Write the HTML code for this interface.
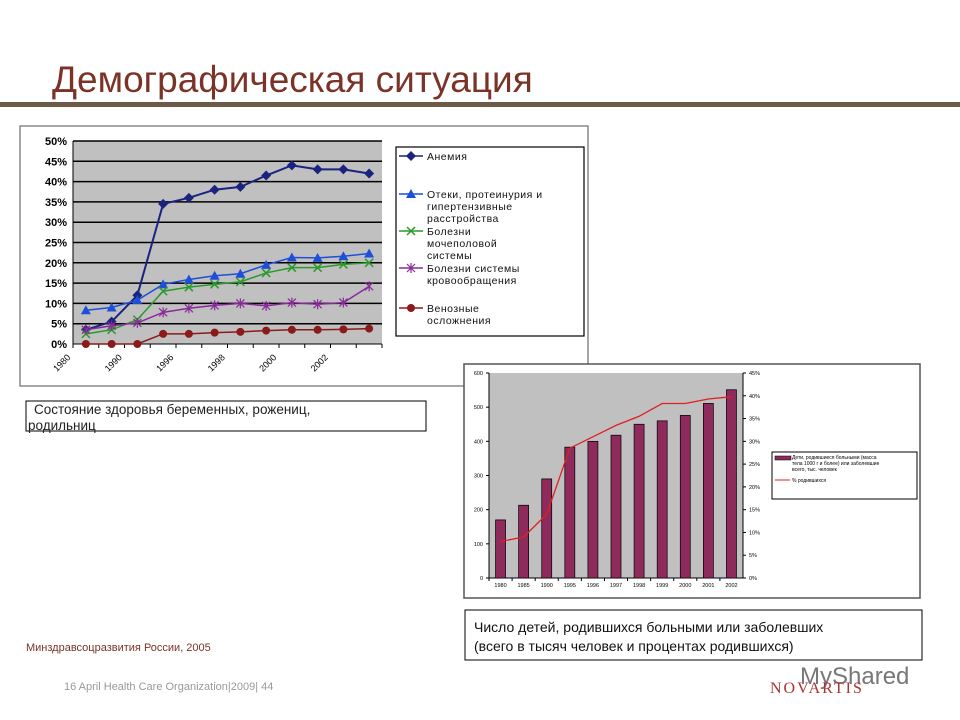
<!DOCTYPE html>
<html><head><meta charset="utf-8"><style>
html,body{margin:0;padding:0;background:#fff;}
svg{display:block;font-family:"Liberation Sans","DejaVu Sans",sans-serif;}
</style></head><body>
<svg id="s" width="960" height="720" viewBox="0 0 960 720">
<text x="52" y="92" font-size="37" fill="#7a3326">Демографическая  ситуация</text>
<rect x="0" y="102" width="960" height="5" fill="#6e5b47"/>
<rect x="20" y="126" width="568" height="260" fill="#fff" stroke="#888" stroke-width="1.5"/>
<g id="c1"></g>
<rect x="26" y="401" width="400" height="30" fill="#fff" stroke="#000"/>
<text x="34" y="414" font-size="13.5" fill="#222"><tspan x="34">Состояние здоровья беременных, рожениц,</tspan><tspan x="28" dy="16">родильниц</tspan></text>
<rect x="464" y="364" width="456" height="234" fill="#fff" stroke="#555" stroke-width="1.5"/>
<g id="c2"></g>
<rect x="465" y="610" width="457" height="50" fill="#fff" stroke="#000"/>
<text font-size="14" fill="#111"><tspan x="474" y="632">Число детей, родившихся больными или заболевших</tspan><tspan x="474" y="651">(всего в тысяч человек и процентах родившихся)</tspan></text>
<text x="26" y="651" font-size="11" fill="#7a3326">Минздравсоцразвития России, 2005</text>
<text x="64" y="690" font-size="11" fill="#999">16 April Health Care Organization|2009| 44</text>
<text x="800" y="684" font-size="24" fill="#777">MyShared</text>
<text x="770" y="693" font-size="16" fill="#a33" letter-spacing="2" font-family="Liberation Serif">NOVARTIS</text>
</svg>
<script>
const NS="http://www.w3.org/2000/svg";
function mk(p,t,a){const e=document.createElementNS(NS,t);for(const k in a)e.setAttribute(k,a[k]);p.appendChild(e);return e;}
// Chart 1 data
const c1Years=["1980","1985","1990","1995","1996","1997","1998","1999","2000","2001","2002","2003"];
const c1Ticks=[0,5,10,15,20,25,30,35,40,45,50];
const c1XLabels=["1980","1990","1996","1998","2000","2002"];
const anemia=[3.5,5.5,12,34.5,36,38,38.7,41.5,44,43,43,42];
const oteki=[8.3,9,10.8,14.7,15.9,16.8,17.3,19.5,21.3,21.2,21.6,22.3];
const urogen=[2.5,3.5,6,13,14,14.7,15.3,17.5,18.8,18.8,19.6,20];
const blood=[3.5,4.5,5.2,7.8,8.8,9.5,10,9.4,10.2,9.8,10.2,14.2];
const venous=[0,0,0,2.5,2.5,2.8,3,3.3,3.5,3.5,3.6,3.8];
// Chart 2 data
const c2Years=["1980","1985","1990","1995","1996","1997","1998","1999","2000","2001","2002"];
const c2Counts=[170,213,290,383,400,418,450,460,476,511,551];
const c2Pct=[8,9,14,28.5,31,33.5,35.5,38.3,38.3,39.3,39.8];
const c2LeftTicks=[0,100,200,300,400,500,600];
const c2RightTicks=[0,5,10,15,20,25,30,35,40,45];

(function(){
const g=document.getElementById('c1');
const L=73,R=382,T=141,B=344;
const y=v=>B-(v/50)*(B-T);
const step=(R-L)/c1Years.length;
const x=i=>L+step*(i+0.5);
const bg=mk(g,'rect',{x:L,y:T,width:R-L,height:B-T,fill:'#c0c0c0'});

c1Ticks.forEach(t=>{
  if(t>0){const l=mk(g,'line',{x1:L,x2:R,y1:y(t),y2:y(t),stroke:'#000','stroke-width':1.5});
  }
  const tx=mk(g,'text',{x:L-6,y:y(t)+4,'font-size':11,'text-anchor':'end',fill:'#000','font-weight':'bold'});
  tx.textContent=t+'%';
  
});
mk(g,'line',{x1:L,x2:L,y1:T,y2:B,stroke:'#000'});
mk(g,'line',{x1:L,x2:R,y1:B,y2:B,stroke:'#000'});
for(let i=0;i<=c1Years.length;i++)mk(g,'line',{x1:L+step*i,x2:L+step*i,y1:B,y2:B+4,stroke:'#000'});
c1XLabels.forEach((lab,k)=>{
  const idx=c1Years.indexOf(lab);
  const xx=(idx>=0?L+step*idx:L)-2;
  const tx=mk(g,'text',{x:xx,y:B+14,'font-size':9,'text-anchor':'end',transform:`rotate(-45 ${xx} ${B+14})`});
  tx.textContent=lab;
  
});
const series=[
 {d:anemia,c:'#1a237e',m:'diamond',n:'anemia'},
 {d:oteki,c:'#1e4fd8',m:'tri',n:'oteki'},
 {d:urogen,c:'#2a9a2a',m:'x',n:'urogenital'},
 {d:blood,c:'#8a2a9a',m:'star',n:'circulatory'},
 {d:venous,c:'#8b1a1a',m:'circle',n:'venous'}];
function marker(p,m,cx,cy,c){
  if(m==='diamond')return mk(p,'path',{d:`M${cx} ${cy-5}L${cx+5} ${cy}L${cx} ${cy+5}L${cx-5} ${cy}Z`,fill:c});
  if(m==='tri')return mk(p,'path',{d:`M${cx} ${cy-5}L${cx+5} ${cy+4}L${cx-5} ${cy+4}Z`,fill:c});
  if(m==='x')return mk(p,'path',{d:`M${cx-4} ${cy-4}L${cx+4} ${cy+4}M${cx+4} ${cy-4}L${cx-4} ${cy+4}`,stroke:c,'stroke-width':1.5});
  if(m==='star')return mk(p,'path',{d:`M${cx-4} ${cy-4}L${cx+4} ${cy+4}M${cx+4} ${cy-4}L${cx-4} ${cy+4}M${cx} ${cy-5}L${cx} ${cy+5}`,stroke:c,'stroke-width':1.2});
  return mk(p,'circle',{cx:cx,cy:cy,r:4,fill:c});
}
series.forEach(s=>{
  const pl=mk(g,'polyline',{points:s.d.map((v,i)=>x(i)+','+y(v)).join(' '),fill:'none',stroke:s.c,'stroke-width':s.n==='anemia'?2:1.5});
  
  s.d.forEach((v,i)=>{const mm=marker(g,s.m,x(i),y(v),s.c);
    });
});
const lg=mk(g,'g',{});

mk(lg,'rect',{x:396,y:147,width:188,height:189,fill:'#fff',stroke:'#000','stroke-width':1.2});
const ent=[[156,['Анемия']],[194,['Отеки, протеинурия и','гипертензивные','расстройства']],[231,['Болезни','мочеполовой','системы']],[268,['Болезни системы','кровообращения']],[308,['Венозные','осложнения']]];
ent.forEach((e,k)=>{
  const s=series[k];
  const eg=mk(lg,'g',{});
  
  mk(eg,'line',{x1:399,x2:423,y1:e[0],y2:e[0],stroke:s.c,'stroke-width':1.5});
  marker(eg,s.m,411,e[0],s.c);
  e[1].forEach((ln,j)=>{const t=mk(eg,'text',{x:427,y:e[0]+4+j*12,'font-size':10.5,fill:'#111','letter-spacing':'0.5'});t.textContent=ln;});
});
})();

(function(){
const g=document.getElementById('c2');
const L=489,R=743,T=373,B=578;
const yl=v=>B-(v/600)*(B-T);
const yr=v=>B-(v/45)*(B-T);
const step=(R-L)/c2Years.length;
const x=i=>L+step*(i+0.5);
const bg=mk(g,'rect',{x:L,y:T,width:R-L,height:B-T,fill:'#c0c0c0'});

mk(g,'line',{x1:L,x2:L,y1:T,y2:B,stroke:'#000'});
mk(g,'line',{x1:R,x2:R,y1:T,y2:B,stroke:'#000'});
mk(g,'line',{x1:L,x2:R,y1:B,y2:B,stroke:'#000'});
c2LeftTicks.forEach(t=>{
  mk(g,'line',{x1:L-3,x2:L,y1:yl(t),y2:yl(t),stroke:'#000'});
  const tx=mk(g,'text',{x:L-6,y:yl(t)+2,'font-size':5.5,'text-anchor':'end'});tx.textContent=t;
  
});
c2RightTicks.forEach(t=>{
  mk(g,'line',{x1:R,x2:R+3,y1:yr(t),y2:yr(t),stroke:'#000'});
  const tx=mk(g,'text',{x:R+6,y:yr(t)+2,'font-size':5.5});tx.textContent=t+'%';
  
});
c2Years.forEach((yr0,i)=>{
  const tx=mk(g,'text',{x:x(i),y:B+9,'font-size':5.5,'text-anchor':'middle'});tx.textContent=yr0;
  
  mk(g,'line',{x1:L+step*i,x2:L+step*i,y1:B,y2:B+3,stroke:'#000'});
});
c2Counts.forEach((v,i)=>{
  const r=mk(g,'rect',{x:x(i)-5,y:yl(v),width:10,height:B-yl(v),fill:'#8e2a5c',stroke:'#000','stroke-width':0.7});
  
});
const pl=mk(g,'polyline',{points:c2Pct.map((v,i)=>x(i)+','+yr(v)).join(' '),fill:'none',stroke:'#e02020','stroke-width':1.3});

const lg=mk(g,'g',{});

mk(lg,'rect',{x:772,y:452,width:145,height:47,fill:'#fff',stroke:'#000'});
mk(lg,'rect',{x:775,y:456,width:16,height:4,fill:'#8e2a5c',stroke:'#000','stroke-width':0.5});
[['Дети, родившиеся больными (масса',459],['тела 1000 г и более) или заболевшие',465],['всего, тыс. человек',471]].forEach(a=>{const t=mk(lg,'text',{x:792,y:a[1],'font-size':5});t.textContent=a[0];});
mk(lg,'line',{x1:775,x2:790,y1:480,y2:480,stroke:'#e02020'});
const t=mk(lg,'text',{x:792,y:482,'font-size':5});t.textContent='% родившихся';
})();
</script>
</body></html>
